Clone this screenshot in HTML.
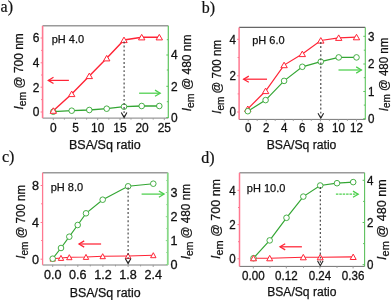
<!DOCTYPE html>
<html><head><meta charset="utf-8"><style>
html,body{margin:0;padding:0;background:#fff;}
svg{display:block;filter:blur(0.3px);}
.tk{font-family:"Liberation Sans", sans-serif;font-size:12.6px;fill:#111;stroke:#111;stroke-width:0.3px;}
.xl{font-family:"Liberation Sans", sans-serif;font-size:12.3px;fill:#111;stroke:#111;stroke-width:0.25px;}
.yl{font-family:"Liberation Sans", sans-serif;fill:#111;stroke:#111;stroke-width:0.25px;}
.ph{font-family:"Liberation Sans", sans-serif;font-size:11px;fill:#111;stroke:#111;stroke-width:0.25px;}
.pl{font-family:"Liberation Serif", serif;font-size:16px;fill:#111;stroke:#111;stroke-width:0.2px;}
</style></head><body>
<svg width="392" height="300" viewBox="0 0 392 300">
<rect width="392" height="300" fill="#fff"/>
<line x1="42.6" y1="25.8" x2="168.3" y2="25.8" stroke="#9a9a9a" stroke-width="1.5"/>
<line x1="42.6" y1="118.1" x2="168.3" y2="118.1" stroke="#808080" stroke-width="1"/>
<line x1="42.6" y1="25.8" x2="42.6" y2="118.1" stroke="#ff7890" stroke-width="1.6"/>
<line x1="168.3" y1="25.8" x2="168.3" y2="118.1" stroke="#5cc45c" stroke-width="1.2"/>
<line x1="40.6" y1="112" x2="42.6" y2="112" stroke="#ff7890" stroke-width="1"/>
<text transform="translate(39.5,116.3) scale(0.95,1)" text-anchor="end" class="tk">0</text>
<line x1="40.6" y1="87.2" x2="42.6" y2="87.2" stroke="#ff7890" stroke-width="1"/>
<text transform="translate(39.5,91.5) scale(0.95,1)" text-anchor="end" class="tk">2</text>
<line x1="40.6" y1="62.8" x2="42.6" y2="62.8" stroke="#ff7890" stroke-width="1"/>
<text transform="translate(39.5,67.1) scale(0.95,1)" text-anchor="end" class="tk">4</text>
<line x1="40.6" y1="38" x2="42.6" y2="38" stroke="#ff7890" stroke-width="1"/>
<text transform="translate(39.5,42.3) scale(0.95,1)" text-anchor="end" class="tk">6</text>
<line x1="41.1" y1="99.6" x2="42.6" y2="99.6" stroke="#ff7890" stroke-width="1"/>
<line x1="41.1" y1="75" x2="42.6" y2="75" stroke="#ff7890" stroke-width="1"/>
<line x1="41.1" y1="50.4" x2="42.6" y2="50.4" stroke="#ff7890" stroke-width="1"/>
<line x1="166.3" y1="117.5" x2="168.3" y2="117.5" stroke="#5cc45c" stroke-width="1"/>
<text transform="translate(171,121.8) scale(0.95,1)" text-anchor="start" class="tk">0</text>
<line x1="166.3" y1="86.3" x2="168.3" y2="86.3" stroke="#5cc45c" stroke-width="1"/>
<text transform="translate(171,90.6) scale(0.95,1)" text-anchor="start" class="tk">2</text>
<line x1="166.3" y1="55" x2="168.3" y2="55" stroke="#5cc45c" stroke-width="1"/>
<text transform="translate(171,59.3) scale(0.95,1)" text-anchor="start" class="tk">4</text>
<line x1="166.8" y1="101.7" x2="168.3" y2="101.7" stroke="#5cc45c" stroke-width="1"/>
<line x1="166.8" y1="70" x2="168.3" y2="70" stroke="#5cc45c" stroke-width="1"/>
<line x1="166.8" y1="39.7" x2="168.3" y2="39.7" stroke="#5cc45c" stroke-width="1"/>
<line x1="53.3" y1="118.1" x2="53.3" y2="120.1" stroke="#9a9a9a" stroke-width="1"/>
<text transform="translate(53.3,131.6) scale(0.95,1)" text-anchor="middle" class="tk">0</text>
<line x1="75.5" y1="118.1" x2="75.5" y2="120.1" stroke="#9a9a9a" stroke-width="1"/>
<text transform="translate(75.5,131.6) scale(0.95,1)" text-anchor="middle" class="tk">5</text>
<line x1="97.7" y1="118.1" x2="97.7" y2="120.1" stroke="#9a9a9a" stroke-width="1"/>
<text transform="translate(97.7,131.6) scale(0.95,1)" text-anchor="middle" class="tk">10</text>
<line x1="120" y1="118.1" x2="120" y2="120.1" stroke="#9a9a9a" stroke-width="1"/>
<text transform="translate(120,131.6) scale(0.95,1)" text-anchor="middle" class="tk">15</text>
<line x1="142.1" y1="118.1" x2="142.1" y2="120.1" stroke="#9a9a9a" stroke-width="1"/>
<text transform="translate(142.1,131.6) scale(0.95,1)" text-anchor="middle" class="tk">20</text>
<line x1="164.3" y1="118.1" x2="164.3" y2="120.1" stroke="#9a9a9a" stroke-width="1"/>
<text transform="translate(164.3,131.6) scale(0.95,1)" text-anchor="middle" class="tk">25</text>
<line x1="64.4" y1="118.1" x2="64.4" y2="119.6" stroke="#9a9a9a" stroke-width="1"/>
<line x1="86.6" y1="118.1" x2="86.6" y2="119.6" stroke="#9a9a9a" stroke-width="1"/>
<line x1="108.8" y1="118.1" x2="108.8" y2="119.6" stroke="#9a9a9a" stroke-width="1"/>
<line x1="131" y1="118.1" x2="131" y2="119.6" stroke="#9a9a9a" stroke-width="1"/>
<line x1="153.2" y1="118.1" x2="153.2" y2="119.6" stroke="#9a9a9a" stroke-width="1"/>
<text x="69" y="149" class="xl" textLength="71.7" lengthAdjust="spacingAndGlyphs">BSA/Sq ratio</text>
<text transform="translate(23.3,109.5) rotate(-90)" class="yl" font-size="12" textLength="76.2" lengthAdjust="spacingAndGlyphs"><tspan font-style="italic">I</tspan><tspan dy="2.8" font-size="10.5">em</tspan><tspan dy="-2.8"> @ 700 nm</tspan></text>
<text transform="translate(191,111.3) rotate(-90)" class="yl" font-size="12" textLength="76.8" lengthAdjust="spacingAndGlyphs"><tspan font-style="italic">I</tspan><tspan dy="2.8" font-size="10.5">em</tspan><tspan dy="-2.8"> @ 480 nm</tspan></text>
<text x="51.7" y="42.7" class="ph">pH 4.0</text>
<polyline points="53.3,111.7 71.7,110.7 89.3,110 106.7,108.7 124,106.7 141.7,106 159.3,106" fill="none" stroke="#33a633" stroke-width="1.3"/>
<polyline points="53.3,110.7 71.7,94 89.3,76 106.7,58.3 124,40 141.7,37.3 159.3,37.3" fill="none" stroke="#ff2436" stroke-width="1.4"/>
<circle cx="53.3" cy="111.7" r="2.8" fill="#fff" stroke="#33a633" stroke-width="0.9"/>
<circle cx="71.7" cy="110.7" r="2.8" fill="#fff" stroke="#33a633" stroke-width="0.9"/>
<circle cx="89.3" cy="110" r="2.8" fill="#fff" stroke="#33a633" stroke-width="0.9"/>
<circle cx="106.7" cy="108.7" r="2.8" fill="#fff" stroke="#33a633" stroke-width="0.9"/>
<circle cx="124" cy="106.7" r="2.8" fill="#fff" stroke="#33a633" stroke-width="0.9"/>
<circle cx="141.7" cy="106" r="2.8" fill="#fff" stroke="#33a633" stroke-width="0.9"/>
<circle cx="159.3" cy="106" r="2.8" fill="#fff" stroke="#33a633" stroke-width="0.9"/>
<polygon points="53.3,107.8 50.1,113.3 56.5,113.3" fill="#fff" stroke="#ff2436" stroke-width="1.0"/>
<polygon points="71.7,91.1 68.5,96.6 74.9,96.6" fill="#fff" stroke="#ff2436" stroke-width="1.0"/>
<polygon points="89.3,73.1 86.1,78.6 92.5,78.6" fill="#fff" stroke="#ff2436" stroke-width="1.0"/>
<polygon points="106.7,55.4 103.5,60.9 109.9,60.9" fill="#fff" stroke="#ff2436" stroke-width="1.0"/>
<polygon points="124,37.1 120.8,42.6 127.2,42.6" fill="#fff" stroke="#ff2436" stroke-width="1.0"/>
<polygon points="141.7,34.4 138.5,39.9 144.9,39.9" fill="#fff" stroke="#ff2436" stroke-width="1.0"/>
<polygon points="159.3,34.4 156.1,39.9 162.5,39.9" fill="#fff" stroke="#ff2436" stroke-width="1.0"/>
<line x1="124.1" y1="41.5" x2="124.1" y2="117" stroke="#333" stroke-width="1.05" stroke-dasharray="1.9,2.2"/>
<polyline points="121.3,112.5 124.1,117.5 126.9,112.5" fill="none" stroke="#222" stroke-width="1.1"/>
<line x1="68.9" y1="80.4" x2="48.3" y2="80.4" stroke="#ff2436" stroke-width="1.25"/><polyline points="53.5,77.3 48.3,80.4 53.5,83.5" fill="none" stroke="#ff2436" stroke-width="1.25"/>
<line x1="139.1" y1="93.2" x2="160.2" y2="93.2" stroke="#4ccf4c" stroke-width="1.25"/><polyline points="155,90.1 160.2,93.2 155,96.3" fill="none" stroke="#4ccf4c" stroke-width="1.25"/>
<text x="0.6" y="11.9" class="pl">a)</text>
<line x1="239.1" y1="27.4" x2="365.3" y2="27.4" stroke="#666666" stroke-width="1.1"/>
<line x1="239.1" y1="119.4" x2="365.3" y2="119.4" stroke="#777777" stroke-width="1"/>
<line x1="239.1" y1="27.4" x2="239.1" y2="119.4" stroke="#ff7890" stroke-width="1.5"/>
<line x1="365.3" y1="27.4" x2="365.3" y2="119.4" stroke="#5cc45c" stroke-width="1.1"/>
<line x1="237.1" y1="112" x2="239.1" y2="112" stroke="#ff7890" stroke-width="1"/>
<text transform="translate(236,116.3) scale(0.92,1)" text-anchor="end" class="tk">0</text>
<line x1="237.1" y1="75.8" x2="239.1" y2="75.8" stroke="#ff7890" stroke-width="1"/>
<text transform="translate(236,80.1) scale(0.92,1)" text-anchor="end" class="tk">2</text>
<line x1="237.1" y1="39.3" x2="239.1" y2="39.3" stroke="#ff7890" stroke-width="1"/>
<text transform="translate(236,43.6) scale(0.92,1)" text-anchor="end" class="tk">4</text>
<line x1="237.6" y1="93.9" x2="239.1" y2="93.9" stroke="#ff7890" stroke-width="1"/>
<line x1="237.6" y1="57.5" x2="239.1" y2="57.5" stroke="#ff7890" stroke-width="1"/>
<line x1="363.3" y1="118.7" x2="365.3" y2="118.7" stroke="#5cc45c" stroke-width="1"/>
<text transform="translate(368,123) scale(0.92,1)" text-anchor="start" class="tk">0</text>
<line x1="363.3" y1="91.5" x2="365.3" y2="91.5" stroke="#5cc45c" stroke-width="1"/>
<text transform="translate(368,95.8) scale(0.92,1)" text-anchor="start" class="tk">1</text>
<line x1="363.3" y1="64" x2="365.3" y2="64" stroke="#5cc45c" stroke-width="1"/>
<text transform="translate(368,68.3) scale(0.92,1)" text-anchor="start" class="tk">2</text>
<line x1="363.3" y1="36.3" x2="365.3" y2="36.3" stroke="#5cc45c" stroke-width="1"/>
<text transform="translate(368,40.6) scale(0.92,1)" text-anchor="start" class="tk">3</text>
<line x1="363.8" y1="105.1" x2="365.3" y2="105.1" stroke="#5cc45c" stroke-width="1"/>
<line x1="363.8" y1="77.7" x2="365.3" y2="77.7" stroke="#5cc45c" stroke-width="1"/>
<line x1="363.8" y1="50.2" x2="365.3" y2="50.2" stroke="#5cc45c" stroke-width="1"/>
<line x1="248.2" y1="119.4" x2="248.2" y2="121.4" stroke="#9a9a9a" stroke-width="1"/>
<text transform="translate(248.2,131.6) scale(0.92,1)" text-anchor="middle" class="tk">0</text>
<line x1="266.2" y1="119.4" x2="266.2" y2="121.4" stroke="#9a9a9a" stroke-width="1"/>
<text transform="translate(266.2,131.6) scale(0.92,1)" text-anchor="middle" class="tk">2</text>
<line x1="284.3" y1="119.4" x2="284.3" y2="121.4" stroke="#9a9a9a" stroke-width="1"/>
<text transform="translate(284.3,131.6) scale(0.92,1)" text-anchor="middle" class="tk">4</text>
<line x1="302.3" y1="119.4" x2="302.3" y2="121.4" stroke="#9a9a9a" stroke-width="1"/>
<text transform="translate(302.3,131.6) scale(0.92,1)" text-anchor="middle" class="tk">6</text>
<line x1="320.4" y1="119.4" x2="320.4" y2="121.4" stroke="#9a9a9a" stroke-width="1"/>
<text transform="translate(320.4,131.6) scale(0.92,1)" text-anchor="middle" class="tk">8</text>
<line x1="338.4" y1="119.4" x2="338.4" y2="121.4" stroke="#9a9a9a" stroke-width="1"/>
<text transform="translate(338.4,131.6) scale(0.92,1)" text-anchor="middle" class="tk">10</text>
<line x1="356.5" y1="119.4" x2="356.5" y2="121.4" stroke="#9a9a9a" stroke-width="1"/>
<text transform="translate(356.5,131.6) scale(0.92,1)" text-anchor="middle" class="tk">12</text>
<line x1="257.2" y1="119.4" x2="257.2" y2="120.9" stroke="#9a9a9a" stroke-width="1"/>
<line x1="275.2" y1="119.4" x2="275.2" y2="120.9" stroke="#9a9a9a" stroke-width="1"/>
<line x1="293.3" y1="119.4" x2="293.3" y2="120.9" stroke="#9a9a9a" stroke-width="1"/>
<line x1="311.3" y1="119.4" x2="311.3" y2="120.9" stroke="#9a9a9a" stroke-width="1"/>
<line x1="329.4" y1="119.4" x2="329.4" y2="120.9" stroke="#9a9a9a" stroke-width="1"/>
<line x1="347.4" y1="119.4" x2="347.4" y2="120.9" stroke="#9a9a9a" stroke-width="1"/>
<text x="266.7" y="149" class="xl" textLength="69.7" lengthAdjust="spacingAndGlyphs">BSA/Sq ratio</text>
<text transform="translate(221,113.8) rotate(-90)" class="yl" font-size="12" textLength="73.8" lengthAdjust="spacingAndGlyphs"><tspan font-style="italic">I</tspan><tspan dy="2.8" font-size="10.5">em</tspan><tspan dy="-2.8"> @ 700 nm</tspan></text>
<text transform="translate(387.5,111.3) rotate(-90)" class="yl" font-size="12" textLength="73.5" lengthAdjust="spacingAndGlyphs"><tspan font-style="italic">I</tspan><tspan dy="2.8" font-size="10.5">em</tspan><tspan dy="-2.8"> @ 480 nm</tspan></text>
<text x="252.2" y="44" class="ph">pH 6.0</text>
<polyline points="247.8,111.2 265.6,100.1 284.1,80.9 302.3,66.8 320.8,61.7 338.7,57.4 356.5,57.4" fill="none" stroke="#33a633" stroke-width="1.2"/>
<polyline points="247.8,108.9 265.6,91 284.1,65.1 302.3,54 320.8,40.5 338.7,37.8 356.5,37.2" fill="none" stroke="#ff2436" stroke-width="1.2"/>
<polygon points="247.8,106 244.6,111.5 251,111.5" fill="#fff" stroke="#ff2436" stroke-width="1.0"/>
<polygon points="265.6,88.1 262.4,93.6 268.8,93.6" fill="#fff" stroke="#ff2436" stroke-width="1.0"/>
<polygon points="284.1,62.2 280.9,67.7 287.3,67.7" fill="#fff" stroke="#ff2436" stroke-width="1.0"/>
<polygon points="302.3,51.1 299.1,56.6 305.5,56.6" fill="#fff" stroke="#ff2436" stroke-width="1.0"/>
<polygon points="320.8,37.6 317.6,43.1 324,43.1" fill="#fff" stroke="#ff2436" stroke-width="1.0"/>
<polygon points="338.7,34.9 335.5,40.4 341.9,40.4" fill="#fff" stroke="#ff2436" stroke-width="1.0"/>
<polygon points="356.5,34.3 353.3,39.8 359.7,39.8" fill="#fff" stroke="#ff2436" stroke-width="1.0"/>
<circle cx="247.8" cy="111.2" r="2.8" fill="#fff" stroke="#33a633" stroke-width="0.9"/>
<circle cx="265.6" cy="100.1" r="2.8" fill="#fff" stroke="#33a633" stroke-width="0.9"/>
<circle cx="284.1" cy="80.9" r="2.8" fill="#fff" stroke="#33a633" stroke-width="0.9"/>
<circle cx="302.3" cy="66.8" r="2.8" fill="#fff" stroke="#33a633" stroke-width="0.9"/>
<circle cx="320.8" cy="61.7" r="2.8" fill="#fff" stroke="#33a633" stroke-width="0.9"/>
<circle cx="338.7" cy="57.4" r="2.8" fill="#fff" stroke="#33a633" stroke-width="0.9"/>
<circle cx="356.5" cy="57.4" r="2.8" fill="#fff" stroke="#33a633" stroke-width="0.9"/>
<line x1="320.8" y1="42" x2="320.8" y2="117.7" stroke="#333" stroke-width="1.05" stroke-dasharray="1.9,2.2"/>
<polyline points="318,113.2 320.8,118.2 323.6,113.2" fill="none" stroke="#222" stroke-width="1.1"/>
<line x1="267" y1="79.2" x2="243.6" y2="79.2" stroke="#ff2436" stroke-width="1.25"/><polyline points="248.8,76.1 243.6,79.2 248.8,82.3" fill="none" stroke="#ff2436" stroke-width="1.25"/>
<line x1="338.5" y1="70" x2="361.4" y2="70" stroke="#4ccf4c" stroke-width="1.25"/><polyline points="356.2,66.9 361.4,70 356.2,73.1" fill="none" stroke="#4ccf4c" stroke-width="1.25"/>
<text x="201.8" y="12.6" class="pl">b)</text>
<line x1="42.6" y1="172.7" x2="167.8" y2="172.7" stroke="#9a9a9a" stroke-width="1.5"/>
<line x1="42.6" y1="264.9" x2="167.8" y2="264.9" stroke="#a8a8a8" stroke-width="1.5"/>
<line x1="42.6" y1="172.7" x2="42.6" y2="264.9" stroke="#ff7890" stroke-width="1.3"/>
<line x1="167.8" y1="172.7" x2="167.8" y2="264.9" stroke="#88d888" stroke-width="1.8"/>
<line x1="40.6" y1="259.2" x2="42.6" y2="259.2" stroke="#ff7890" stroke-width="1"/>
<text transform="translate(38.9,263.5) scale(1,1)" text-anchor="end" class="tk">0</text>
<line x1="40.6" y1="222.5" x2="42.6" y2="222.5" stroke="#ff7890" stroke-width="1"/>
<text transform="translate(38.9,226.8) scale(1,1)" text-anchor="end" class="tk">4</text>
<line x1="40.6" y1="185.5" x2="42.6" y2="185.5" stroke="#ff7890" stroke-width="1"/>
<text transform="translate(38.9,189.8) scale(1,1)" text-anchor="end" class="tk">8</text>
<line x1="41.1" y1="240.5" x2="42.6" y2="240.5" stroke="#ff7890" stroke-width="1"/>
<line x1="41.1" y1="203.8" x2="42.6" y2="203.8" stroke="#ff7890" stroke-width="1"/>
<line x1="165.8" y1="264.5" x2="167.8" y2="264.5" stroke="#88d888" stroke-width="1"/>
<text transform="translate(170.4,268.8) scale(1,1)" text-anchor="start" class="tk">0</text>
<line x1="165.8" y1="240.6" x2="167.8" y2="240.6" stroke="#88d888" stroke-width="1"/>
<text transform="translate(170.4,244.9) scale(1,1)" text-anchor="start" class="tk">1</text>
<line x1="165.8" y1="216.7" x2="167.8" y2="216.7" stroke="#88d888" stroke-width="1"/>
<text transform="translate(170.4,221) scale(1,1)" text-anchor="start" class="tk">2</text>
<line x1="165.8" y1="192.5" x2="167.8" y2="192.5" stroke="#88d888" stroke-width="1"/>
<text transform="translate(170.4,196.8) scale(1,1)" text-anchor="start" class="tk">3</text>
<line x1="166.3" y1="252.5" x2="167.8" y2="252.5" stroke="#88d888" stroke-width="1"/>
<line x1="166.3" y1="228.6" x2="167.8" y2="228.6" stroke="#88d888" stroke-width="1"/>
<line x1="166.3" y1="204.6" x2="167.8" y2="204.6" stroke="#88d888" stroke-width="1"/>
<line x1="166.3" y1="180.5" x2="167.8" y2="180.5" stroke="#88d888" stroke-width="1"/>
<line x1="52.7" y1="264.9" x2="52.7" y2="266.9" stroke="#9a9a9a" stroke-width="1"/>
<text transform="translate(52.7,278.6) scale(1,1)" text-anchor="middle" class="tk">0.0</text>
<line x1="77.8" y1="264.9" x2="77.8" y2="266.9" stroke="#9a9a9a" stroke-width="1"/>
<text transform="translate(77.8,278.6) scale(1,1)" text-anchor="middle" class="tk">0.6</text>
<line x1="102.9" y1="264.9" x2="102.9" y2="266.9" stroke="#9a9a9a" stroke-width="1"/>
<text transform="translate(102.9,278.6) scale(1,1)" text-anchor="middle" class="tk">1.2</text>
<line x1="128.1" y1="264.9" x2="128.1" y2="266.9" stroke="#9a9a9a" stroke-width="1"/>
<text transform="translate(128.1,278.6) scale(1,1)" text-anchor="middle" class="tk">1.8</text>
<line x1="153.2" y1="264.9" x2="153.2" y2="266.9" stroke="#9a9a9a" stroke-width="1"/>
<text transform="translate(153.2,278.6) scale(1,1)" text-anchor="middle" class="tk">2.4</text>
<line x1="65.2" y1="264.9" x2="65.2" y2="266.4" stroke="#9a9a9a" stroke-width="1"/>
<line x1="90.3" y1="264.9" x2="90.3" y2="266.4" stroke="#9a9a9a" stroke-width="1"/>
<line x1="115.5" y1="264.9" x2="115.5" y2="266.4" stroke="#9a9a9a" stroke-width="1"/>
<line x1="140.6" y1="264.9" x2="140.6" y2="266.4" stroke="#9a9a9a" stroke-width="1"/>
<text x="69.7" y="296.8" class="xl" textLength="71" lengthAdjust="spacingAndGlyphs">BSA/Sq ratio</text>
<text transform="translate(25,258.7) rotate(-90)" class="yl" font-size="12" textLength="73.7" lengthAdjust="spacingAndGlyphs"><tspan font-style="italic">I</tspan><tspan dy="2.8" font-size="10.5">em</tspan><tspan dy="-2.8"> @ 700 nm</tspan></text>
<text transform="translate(190,259.3) rotate(-90)" class="yl" font-size="12" textLength="75.3" lengthAdjust="spacingAndGlyphs"><tspan font-style="italic">I</tspan><tspan dy="2.8" font-size="10.5">em</tspan><tspan dy="-2.8"> @ 480 nm</tspan></text>
<text x="50.7" y="191.1" class="ph">pH 8.0</text>
<polyline points="52.7,258.7 61,248 69.3,236.7 77.7,225 86,213.3 102.7,199.7 128.1,186.3 153.3,183.7" fill="none" stroke="#33a633" stroke-width="1.15"/>
<polyline points="52.7,258.7 61,258 69.3,257.3 86,257 102.7,256.3 128.1,256 153.3,255.3" fill="none" stroke="#ff2436" stroke-width="1.15"/>
<polygon points="52.7,256.1 50,261.1 55.4,261.1" fill="#fff" stroke="#ff2436" stroke-width="1.0"/>
<polygon points="61,255.4 58.3,260.4 63.7,260.4" fill="#fff" stroke="#ff2436" stroke-width="1.0"/>
<polygon points="69.3,254.7 66.6,259.7 72,259.7" fill="#fff" stroke="#ff2436" stroke-width="1.0"/>
<polygon points="86,254.4 83.3,259.4 88.7,259.4" fill="#fff" stroke="#ff2436" stroke-width="1.0"/>
<polygon points="102.7,253.7 100,258.7 105.4,258.7" fill="#fff" stroke="#ff2436" stroke-width="1.0"/>
<polygon points="128.1,253.4 125.4,258.4 130.8,258.4" fill="#fff" stroke="#ff2436" stroke-width="1.0"/>
<polygon points="153.3,252.7 150.6,257.7 156,257.7" fill="#fff" stroke="#ff2436" stroke-width="1.0"/>
<circle cx="52.7" cy="258.7" r="2.8" fill="#fff" stroke="#33a633" stroke-width="0.9"/>
<circle cx="61" cy="248" r="2.8" fill="#fff" stroke="#33a633" stroke-width="0.9"/>
<circle cx="69.3" cy="236.7" r="2.8" fill="#fff" stroke="#33a633" stroke-width="0.9"/>
<circle cx="77.7" cy="225" r="2.8" fill="#fff" stroke="#33a633" stroke-width="0.9"/>
<circle cx="86" cy="213.3" r="2.8" fill="#fff" stroke="#33a633" stroke-width="0.9"/>
<circle cx="102.7" cy="199.7" r="2.8" fill="#fff" stroke="#33a633" stroke-width="0.9"/>
<circle cx="128.1" cy="186.3" r="2.8" fill="#fff" stroke="#33a633" stroke-width="0.9"/>
<circle cx="153.3" cy="183.7" r="2.8" fill="#fff" stroke="#33a633" stroke-width="0.9"/>
<line x1="128.1" y1="187.5" x2="128.1" y2="263" stroke="#333" stroke-width="1.05" stroke-dasharray="1.9,2.2"/>
<polyline points="125.3,258.5 128.1,263.5 130.9,258.5" fill="none" stroke="#222" stroke-width="1.1"/>
<line x1="101.1" y1="244" x2="79" y2="244" stroke="#ff2436" stroke-width="1.25"/><polyline points="84.2,240.9 79,244 84.2,247.1" fill="none" stroke="#ff2436" stroke-width="1.25"/>
<line x1="141.6" y1="194.1" x2="164.1" y2="194.1" stroke="#4ccf4c" stroke-width="1.25"/><polyline points="158.9,191 164.1,194.1 158.9,197.2" fill="none" stroke="#4ccf4c" stroke-width="1.25"/>
<text x="2" y="161.8" class="pl">c)</text>
<line x1="239.5" y1="172.8" x2="364.6" y2="172.8" stroke="#9a9a9a" stroke-width="1.5"/>
<line x1="239.5" y1="266.4" x2="364.6" y2="266.4" stroke="#707070" stroke-width="1"/>
<line x1="239.5" y1="172.8" x2="239.5" y2="266.4" stroke="#ff7890" stroke-width="1.5"/>
<line x1="364.6" y1="172.8" x2="364.6" y2="266.4" stroke="#5cbf5c" stroke-width="1.1"/>
<line x1="237.5" y1="258.8" x2="239.5" y2="258.8" stroke="#ff7890" stroke-width="1"/>
<text transform="translate(235.8,263.1) scale(0.92,1)" text-anchor="end" class="tk">0</text>
<line x1="237.5" y1="224.6" x2="239.5" y2="224.6" stroke="#ff7890" stroke-width="1"/>
<text transform="translate(235.8,228.9) scale(0.92,1)" text-anchor="end" class="tk">2</text>
<line x1="237.5" y1="190.3" x2="239.5" y2="190.3" stroke="#ff7890" stroke-width="1"/>
<text transform="translate(235.8,194.6) scale(0.92,1)" text-anchor="end" class="tk">4</text>
<line x1="238" y1="241.7" x2="239.5" y2="241.7" stroke="#ff7890" stroke-width="1"/>
<line x1="238" y1="207.5" x2="239.5" y2="207.5" stroke="#ff7890" stroke-width="1"/>
<line x1="362.6" y1="264.7" x2="364.6" y2="264.7" stroke="#5cbf5c" stroke-width="1"/>
<text transform="translate(367,269) scale(0.92,1)" text-anchor="start" class="tk">0</text>
<line x1="362.6" y1="222.5" x2="364.6" y2="222.5" stroke="#5cbf5c" stroke-width="1"/>
<text transform="translate(367,226.8) scale(0.92,1)" text-anchor="start" class="tk">2</text>
<line x1="362.6" y1="180.3" x2="364.6" y2="180.3" stroke="#5cbf5c" stroke-width="1"/>
<text transform="translate(367,184.6) scale(0.92,1)" text-anchor="start" class="tk">4</text>
<line x1="363.1" y1="243.6" x2="364.6" y2="243.6" stroke="#5cbf5c" stroke-width="1"/>
<line x1="363.1" y1="201.4" x2="364.6" y2="201.4" stroke="#5cbf5c" stroke-width="1"/>
<line x1="253.3" y1="266.4" x2="253.3" y2="268.4" stroke="#9a9a9a" stroke-width="1"/>
<text transform="translate(253.3,279.5) scale(0.92,1)" text-anchor="middle" class="tk">0.00</text>
<line x1="286.3" y1="266.4" x2="286.3" y2="268.4" stroke="#9a9a9a" stroke-width="1"/>
<text transform="translate(286.3,279.5) scale(0.92,1)" text-anchor="middle" class="tk">0.12</text>
<line x1="319.9" y1="266.4" x2="319.9" y2="268.4" stroke="#9a9a9a" stroke-width="1"/>
<text transform="translate(319.9,279.5) scale(0.92,1)" text-anchor="middle" class="tk">0.24</text>
<line x1="353.1" y1="266.4" x2="353.1" y2="268.4" stroke="#9a9a9a" stroke-width="1"/>
<text transform="translate(353.1,279.5) scale(0.92,1)" text-anchor="middle" class="tk">0.36</text>
<line x1="270" y1="266.4" x2="270" y2="267.9" stroke="#9a9a9a" stroke-width="1"/>
<line x1="303.5" y1="266.4" x2="303.5" y2="267.9" stroke="#9a9a9a" stroke-width="1"/>
<line x1="337" y1="266.4" x2="337" y2="267.9" stroke="#9a9a9a" stroke-width="1"/>
<text x="267.2" y="296.3" class="xl" textLength="69.3" lengthAdjust="spacingAndGlyphs">BSA/Sq ratio</text>
<text transform="translate(219.8,259) rotate(-90)" class="yl" font-size="12.9" textLength="80" lengthAdjust="spacingAndGlyphs"><tspan font-style="italic">I</tspan><tspan dy="2.8" font-size="11.29">em</tspan><tspan dy="-2.8"> @ 700 nm</tspan></text>
<text transform="translate(385.8,260) rotate(-90)" class="yl" font-size="12.9" textLength="80.8" lengthAdjust="spacingAndGlyphs"><tspan font-style="italic">I</tspan><tspan dy="2.8" font-size="11.29">em</tspan><tspan dy="-2.8"> @ 480 nm</tspan></text>
<text x="246.8" y="192.3" class="ph">pH 10.0</text>
<polyline points="253.5,258.2 269.7,240.4 286.5,217.8 303.3,196.6 320.2,185.5 337,183.2 353.2,182.1" fill="none" stroke="#33a633" stroke-width="1.2"/>
<polyline points="253.5,258.2 269.7,258.2 303.3,257.2 320.2,257.2 353.2,256.9" fill="none" stroke="#ff2436" stroke-width="1.15"/>
<circle cx="253.5" cy="258.2" r="2.8" fill="#fff" stroke="#33a633" stroke-width="0.9"/>
<circle cx="269.7" cy="240.4" r="2.8" fill="#fff" stroke="#33a633" stroke-width="0.9"/>
<circle cx="286.5" cy="217.8" r="2.8" fill="#fff" stroke="#33a633" stroke-width="0.9"/>
<circle cx="303.3" cy="196.6" r="2.8" fill="#fff" stroke="#33a633" stroke-width="0.9"/>
<circle cx="320.2" cy="185.5" r="2.8" fill="#fff" stroke="#33a633" stroke-width="0.9"/>
<circle cx="337" cy="183.2" r="2.8" fill="#fff" stroke="#33a633" stroke-width="0.9"/>
<circle cx="353.2" cy="182.1" r="2.8" fill="#fff" stroke="#33a633" stroke-width="0.9"/>
<polygon points="253.5,255.4 250.5,260.8 256.5,260.8" fill="#fff" stroke="#ff2436" stroke-width="1.0"/>
<polygon points="269.7,255.4 266.7,260.8 272.7,260.8" fill="#fff" stroke="#ff2436" stroke-width="1.0"/>
<polygon points="303.3,254.4 300.3,259.8 306.3,259.8" fill="#fff" stroke="#ff2436" stroke-width="1.0"/>
<polygon points="320.2,254.4 317.2,259.8 323.2,259.8" fill="#fff" stroke="#ff2436" stroke-width="1.0"/>
<polygon points="353.2,254.1 350.2,259.5 356.2,259.5" fill="#fff" stroke="#ff2436" stroke-width="1.0"/>
<line x1="320.3" y1="187" x2="320.3" y2="265.2" stroke="#333" stroke-width="1.05" stroke-dasharray="1.9,2.2"/>
<polyline points="317.5,260.7 320.3,265.7 323.1,260.7" fill="none" stroke="#222" stroke-width="1.1"/>
<line x1="301.9" y1="246.8" x2="280" y2="246.8" stroke="#ff2436" stroke-width="1.25"/><polyline points="285.2,243.7 280,246.8 285.2,249.9" fill="none" stroke="#ff2436" stroke-width="1.25"/>
<line x1="335.9" y1="194.2" x2="358.2" y2="194.2" stroke="#4ccf4c" stroke-width="1.25" stroke-dasharray="2.5,0.9"/><polyline points="353,191.1 358.2,194.2 353,197.3" fill="none" stroke="#4ccf4c" stroke-width="1.25"/>
<text x="201.2" y="162.5" class="pl">d)</text>
</svg>
</body></html>
